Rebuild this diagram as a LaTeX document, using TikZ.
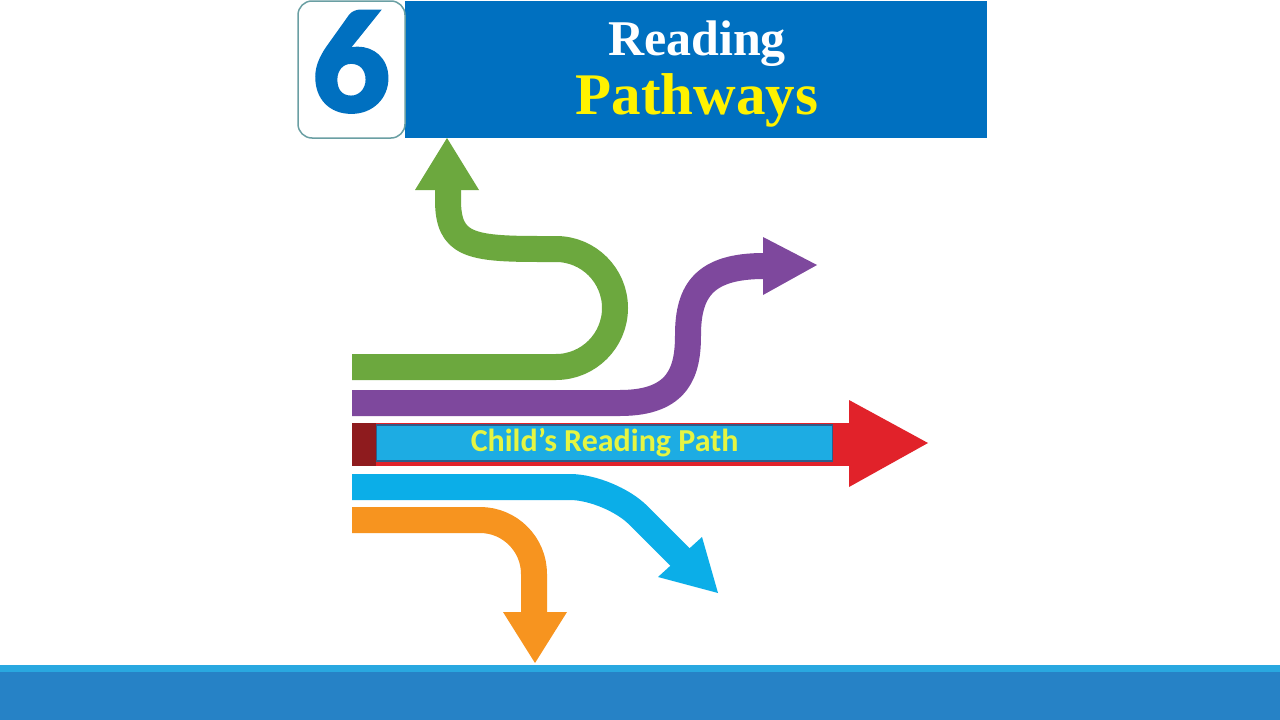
\documentclass[tikz,border=0pt]{standalone}
\usepackage{fontspec}
\newfontfamily\carlito{Carlito}
\newfontfamily\sixfont{Carlito}[BoldFeatures={FakeBold=2.5}]
\newfontfamily\libserif{Liberation Serif}
\definecolor{titleblue}{HTML}{0070C0}
\definecolor{agreen}{HTML}{6CA83E}
\definecolor{apurple}{HTML}{7E489D}
\definecolor{ared}{HTML}{E1222A}
\definecolor{adarkred}{HTML}{8E1B1E}
\definecolor{acyan}{HTML}{0BAEE8}
\definecolor{aorange}{HTML}{F7941F}
\definecolor{labelbox}{HTML}{1DACE3}
\definecolor{labelborder}{HTML}{2B5E8C}
\definecolor{labeltext}{HTML}{E5F542}
\definecolor{botlight}{HTML}{29A8E0}
\definecolor{botdark}{HTML}{2682C6}
\definecolor{boxborder}{HTML}{6A9FA3}
\begin{document}
\begin{tikzpicture}[x=1pt,y=-1pt,
  band/.style={line width=26pt,line cap=butt,line join=round}]
\useasboundingbox (0,0) rectangle (1280,720);
\fill[white] (0,0) rectangle (1280,720);
% bottom bars
\fill[botlight] (0,665) rectangle (1280,673);
\fill[botdark] (0,672) rectangle (1280,720);
% title
\fill[titleblue] (405,1) rectangle (987,138);
\draw[boxborder,line width=1.5pt,fill=white,rounded corners=14pt] (298,1) rectangle (405,138);
\node[anchor=base,text=titleblue,inner sep=0pt,xscale=1.05] (six) at (351,111) {\sixfont\bfseries\fontsize{146}{146}\selectfont 6};
\node[anchor=base,text=white,inner sep=0pt] (reading) at (697,55) {\libserif\bfseries\fontsize{50}{50}\selectfont Reading};
\node[anchor=base,text=yellow,inner sep=0pt] (pathways) at (697,114) {\libserif\bfseries\fontsize{59}{59}\selectfont Pathways};
% green arrow
\draw[band,agreen] (352,367) -- (556,367) arc[start angle=90,end angle=-90,radius=59] -- (540,249)
  .. controls (470,249) and (448,245) .. (448,200) -- (448,189);
\fill[agreen] (415,190) -- (447,138) -- (479,190) -- cycle;
% purple arrow
\draw[band,apurple] (352,403) -- (620,403) .. controls (680,403) and (688,370) .. (688,335)
  .. controls (688,290) and (705,266) .. (764,266);
\fill[apurple] (763,237) -- (817,265) -- (763,295) -- cycle;
% red arrow
\fill[ared] (352,423) rectangle (850,466);
\fill[ared] (849,400) -- (928,443) -- (849,487) -- cycle;
\fill[adarkred] (352,423) rectangle (376,466);
\node[draw=labelborder,line width=1.2pt,fill=labelbox,minimum width=456pt,minimum height=36pt,inner sep=0pt,anchor=west] (label) at (376,443)
  {\carlito\bfseries\fontsize{32}{32}\selectfont\color{labeltext}Child’s Reading Path};
% cyan arrow
\draw[band,acyan,rounded corners=40pt] (352,487) -- (610,487) -- (681,558);
\fill[acyan] (658,577) -- (718,593) -- (702,537) -- cycle;
% orange arrow
\draw[band,aorange] (352,520) -- (480,520) arc[start angle=-90,end angle=0,radius=54] -- (534,613);
\fill[aorange] (503,612) -- (535,663) -- (567,612) -- cycle;
\end{tikzpicture}
\end{document}
